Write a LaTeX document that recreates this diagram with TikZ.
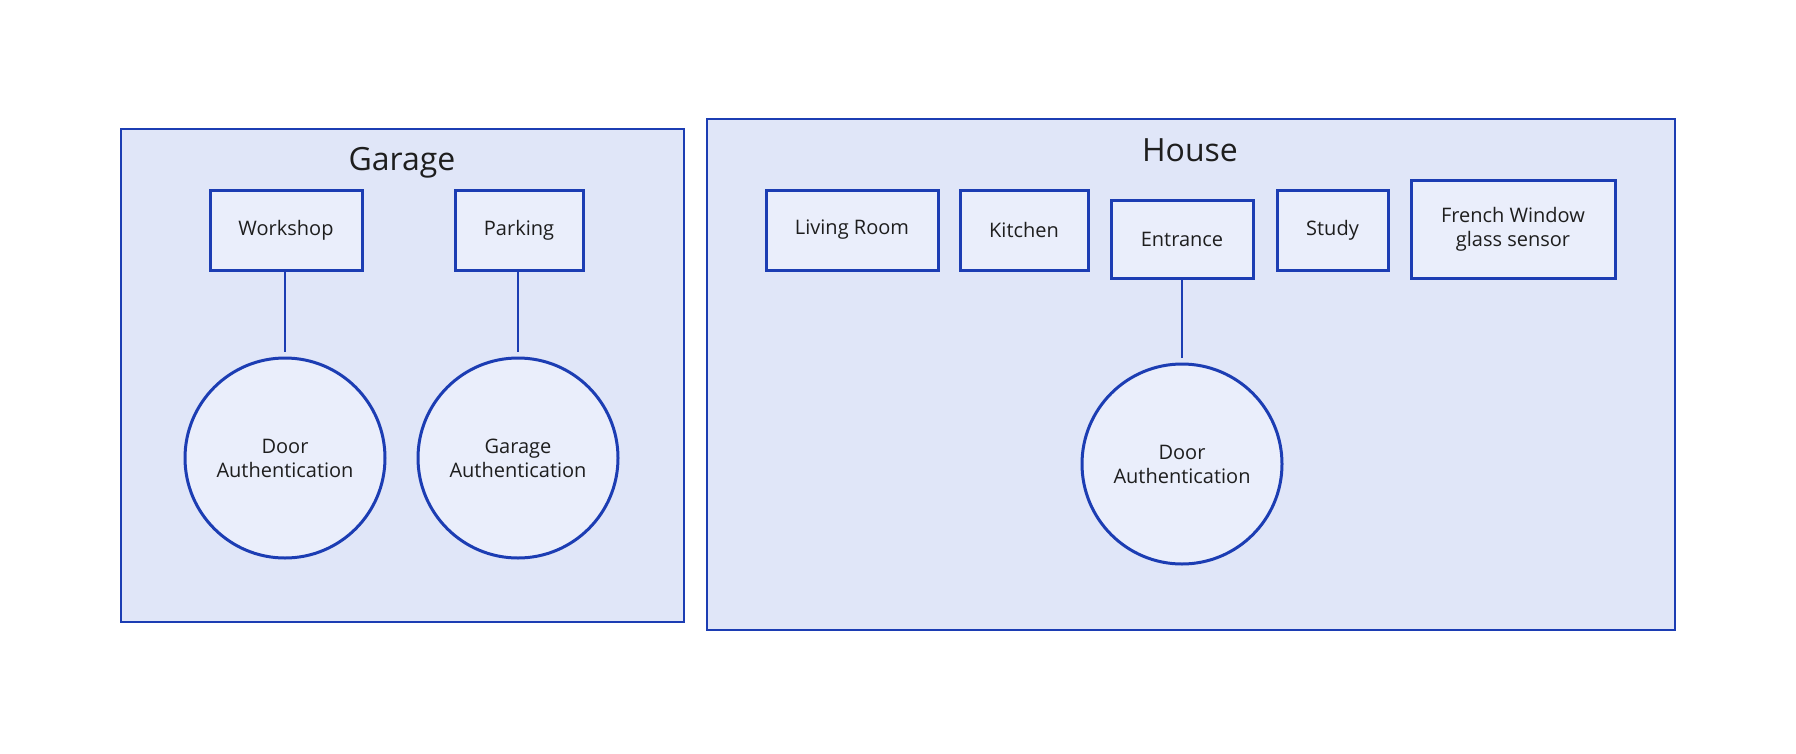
\documentclass[tikz,border=0pt]{standalone}
\usepackage{fontspec}
\setmainfont{Open Sans}
\definecolor{strk}{HTML}{1C3DB3}
\definecolor{bigfill}{HTML}{E0E6F8}
\definecolor{smallfill}{HTML}{EAEEFB}
\definecolor{txt}{HTML}{1E1E1E}
\begin{document}
\begin{tikzpicture}[x=1pt,y=-1pt,
  zone/.style={draw=strk,fill=bigfill,line width=2.4pt,rectangle,inner sep=0pt},
  room/.style={draw=strk,fill=smallfill,line width=3pt,rectangle,inner sep=0pt,align=center,text=txt,font=\fontsize{20}{24}\selectfont},
  auth/.style={draw=strk,fill=smallfill,line width=3pt,circle,inner sep=0pt,minimum size=200pt,align=center,text=txt,font=\fontsize{20}{24}\selectfont},
  ztitle/.style={text=txt,font=\fontsize{32}{36}\selectfont,inner sep=0pt},
  link/.style={draw=strk,line width=2pt,shorten >=5pt}]
\useasboundingbox (0,0) rectangle (1796,753);
% zones
\node[zone,minimum width=563pt,minimum height=493pt] (garage) at (402.5,375.5) {};
\node[zone,minimum width=968pt,minimum height=511pt] (house) at (1191,374.5) {};
\node[ztitle] (gtitle) at (402,163) {Garage};
\node[ztitle] (htitle) at (1190,150) {House};
% garage rooms
\node[room,minimum width=152pt,minimum height=80pt] (workshop) at (286,230) {Workshop};
\node[room,minimum width=128pt,minimum height=80pt] (parking) at (519,230) {Parking};
\node[auth] (gdoor) at (285,458) {Door\\Authentication};
\node[auth] (gauth) at (518,458) {Garage\\Authentication};
% house rooms
\node[room,minimum width=172pt,minimum height=80pt] (living) at (852,230) {Living Room};
\node[room,minimum width=128pt,minimum height=80pt] (kitchen) at (1024,230) {Kitchen};
\node[room,minimum width=142pt,minimum height=78pt] (entrance) at (1182,239) {Entrance};
\node[room,minimum width=111pt,minimum height=80pt] (study) at (1332.5,230) {Study};
\node[room,minimum width=204pt,minimum height=98pt] (french) at (1513,229.5) {French Window\\glass sensor};
\node[auth] (hdoor) at (1182,464) {Door\\Authentication};
% links
\draw[link] (gdoor.north |- workshop.south) -- (gdoor.north);
\draw[link] (gauth.north |- parking.south) -- (gauth.north);
\draw[link] (hdoor.north |- entrance.south) -- (hdoor.north);
\end{tikzpicture}
\end{document}
